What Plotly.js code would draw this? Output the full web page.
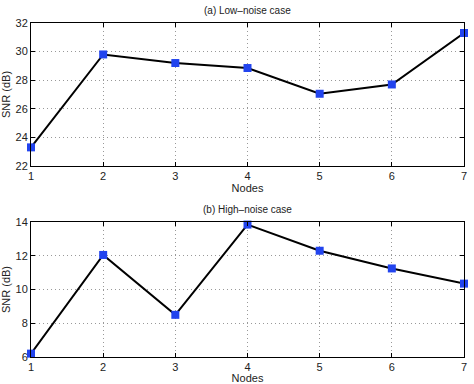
<!DOCTYPE html>
<html><head><meta charset="utf-8">
<script src="https://cdn.plot.ly/plotly-3.0.1.min.js"></script>
<style>body{margin:0;background:#fff}#c{width:474px;height:384px}</style>
</head><body><div id="c"></div>
<script>
const nodes = [1, 2, 3, 4, 5, 6, 7];
const snrLow = [23.3, 29.8, 29.2, 28.85, 27.05, 27.7, 31.3];
const snrHigh = [6.2, 12.05, 8.5, 13.85, 12.3, 11.25, 10.35];
const titleLow = '(a) Low\u2013noise case';
const titleHigh = '(b) High\u2013noise case';

const line = {color: '#000', width: 2};
const marker = {symbol: 'square', size: 8, color: '#2244ee'};
const traces = [
  {x: nodes, y: snrLow, xaxis: 'x', yaxis: 'y', mode: 'lines+markers', line, marker, cliponaxis: false},
  {x: nodes, y: snrHigh, xaxis: 'x2', yaxis: 'y2', mode: 'lines+markers', line, marker, cliponaxis: false}
];
const font = {family: 'Liberation Sans, Arial, sans-serif', size: 11, color: '#222'};
const xa = {range: [1, 7], dtick: 1, tick0: 1, showline: true, mirror: 'ticks', linecolor: '#000', linewidth: 1,
  ticks: 'inside', ticklen: 4, tickcolor: '#000', showgrid: true, gridcolor: '#999', griddash: '1px,3px', gridwidth: 1,
  zeroline: false, title: {text: 'Nodes', font: {size: 11}, standoff: 1}};
const ya = {showline: true, mirror: 'ticks', linecolor: '#000', linewidth: 1, ticks: 'inside', ticklen: 4, tickcolor: '#000',
  showgrid: true, gridcolor: '#999', griddash: '1px,3px', gridwidth: 1, zeroline: false,
  title: {text: 'SNR (dB)', font: {size: 11}, standoff: 5}};
const layout = {
  width: 474, height: 384, font, showlegend: false,
  paper_bgcolor: '#fff', plot_bgcolor: '#fff',
  margin: {l: 31, r: 10, t: 23, b: 27},
  xaxis: Object.assign({}, xa, {anchor: 'y'}),
  yaxis: Object.assign({}, ya, {domain: [0.572, 1], range: [22, 32], dtick: 2, anchor: 'x'}),
  xaxis2: Object.assign({}, xa, {anchor: 'y2'}),
  yaxis2: Object.assign({}, ya, {domain: [0, 0.404], range: [6, 14], dtick: 2, anchor: 'x2'}),
  annotations: [
    {text: titleLow, xref: 'paper', yref: 'paper', x: 0.5, y: 1, yshift: 5, yanchor: 'bottom', showarrow: false, font: {size: 10}},
    {text: titleHigh, xref: 'paper', yref: 'paper', x: 0.5, y: 0.404, yshift: 5, yanchor: 'bottom', showarrow: false, font: {size: 10}}
  ]
};
Plotly.newPlot('c', traces, layout, {displayModeBar: false});
</script></body></html>
